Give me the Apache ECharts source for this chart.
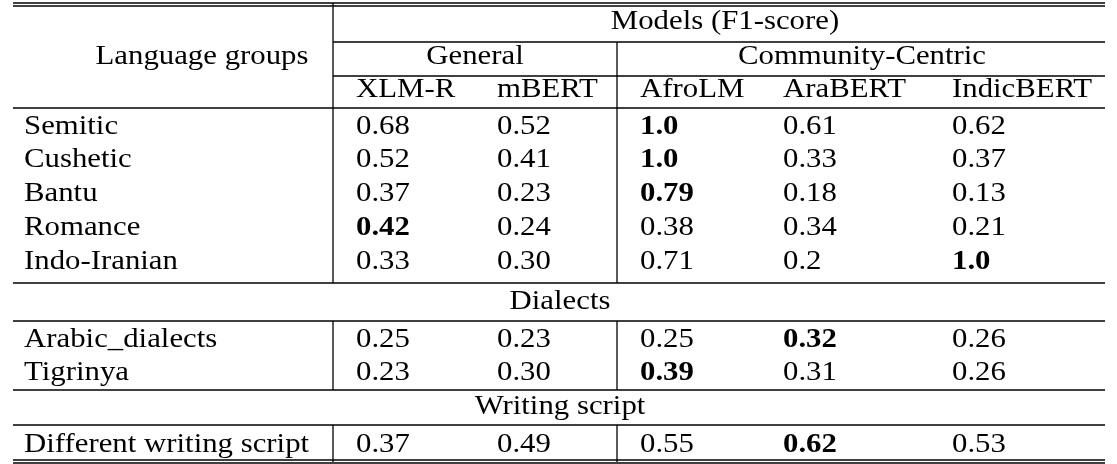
<!DOCTYPE html><html><head><meta charset="utf-8">
<script src="https://cdn.jsdelivr.net/npm/echarts@6/dist/echarts.min.js"></script>
<style>html,body{margin:0;padding:0;background:#fff}#c{width:1117px;height:464px}</style></head><body><div id="c"></div>
<script>
const models = ['XLM-R','mBERT','AfroLM','AraBERT','IndicBERT'];
const groups1 = ['Semitic','Cushetic','Bantu','Romance','Indo-Iranian'];
const values1 = [['0.68','0.52','1.0','0.61','0.62'],['0.52','0.41','1.0','0.33','0.37'],['0.37','0.23','0.79','0.18','0.13'],['0.42','0.24','0.38','0.34','0.21'],['0.33','0.30','0.71','0.2','1.0']];
const bold1 = [2,2,2,0,4];
const groups2 = ['Arabic_dialects','Tigrinya'];
const values2 = [['0.25','0.23','0.25','0.32','0.26'],['0.23','0.30','0.39','0.31','0.26']];
const bold2 = [3,2];
const groups3 = ['Different writing script'];
const values3 = [['0.37','0.49','0.55','0.62','0.53']];
const bold3 = [3];

const F='"Liberation Serif","DejaVu Serif",serif', FS=28, SX=1.1;
const colX=[356,497,640,783,952];
const els=[];
function t(x,y,s,opt){opt=opt||{};els.push({type:'text',x:x,y:y,scaleX:SX,style:{x:0,y:0,text:s,font:(opt.b?'bold ':'')+FS+'px '+F,fill:'#000',textAlign:opt.a||'left',textVerticalAlign:'middle'}});}
function hl(x1,x2,y){els.push({type:'line',shape:{x1:x1,y1:y,x2:x2,y2:y},style:{stroke:'#000',lineWidth:1.3}});}
function vl(x,y1,y2){els.push({type:'line',shape:{x1:x,y1:y1,x2:x,y2:y2},style:{stroke:'#000',lineWidth:1.3}});}
const L=13,R=1105;
hl(L,R,3);hl(L,R,6);hl(333,R,42);hl(333,R,76);hl(L,R,108);
t(202,57,'Language groups',{a:'center'});
t(725,22,'Models (F1-score)',{a:'center'});
t(475,57,'General',{a:'center'});t(862,57,'Community-Centric',{a:'center'});
models.forEach((m,i)=>t(colX[i],90,m));
vl(333,3,108);vl(617,42,108);
function block(gs,vs,bs,ys){gs.forEach((g,r)=>{t(24,ys[r],g);vs[r].forEach((v,c)=>t(colX[c],ys[r],v,{b:bs[r]===c}));});}
block(groups1,values1,bold1,[127,160,194,228,262]);
vl(333,108,283);vl(617,108,283);
hl(L,R,283);t(560,302,'Dialects',{a:'center'});hl(L,R,321);
block(groups2,values2,bold2,[340,373]);
vl(333,321,390);vl(617,321,390);
hl(L,R,390);t(560,407,'Writing script',{a:'center'});hl(L,R,425);
block(groups3,values3,bold3,[445]);
vl(333,425,462);vl(617,425,462);
hl(L,R,460);hl(L,R,463);
const ch=echarts.init(document.getElementById('c'));
ch.setOption({animation:false,graphic:{elements:els}});
</script></body></html>
